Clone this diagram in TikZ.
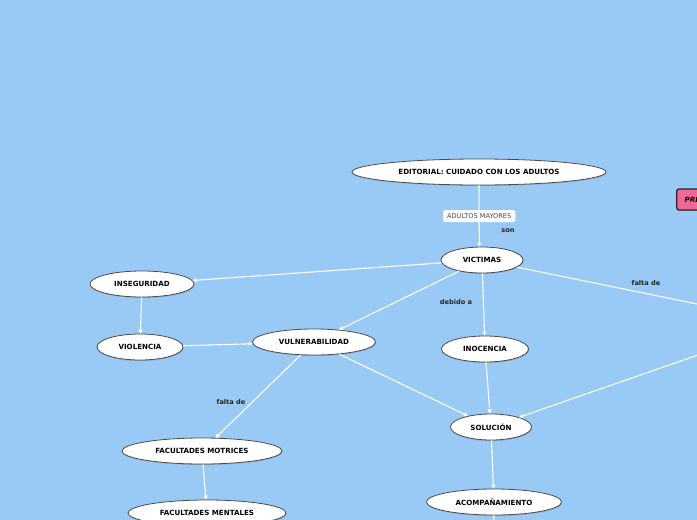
\documentclass[tikz,border=0pt]{standalone}
\usepackage{fontspec}
\setmainfont{DejaVu Sans}
\usetikzlibrary{shapes.geometric,shadows,arrows.meta}
\definecolor{fondo}{RGB}{153,201,245}
\definecolor{rosa}{RGB}{240,104,152}
\begin{document}
\begin{tikzpicture}[x=1pt,y=-1pt,
    tema/.style={ellipse, draw=black!70, fill=white, line width=0.8pt, inner sep=0pt,
      minimum height=26pt, font=\bfseries\fontsize{7.1}{8}\selectfont,
      drop shadow={shadow xshift=0.6pt, shadow yshift=-0.9pt, opacity=0.45}},
    enlace/.style={draw=white, line width=1.1pt, -{Triangle[length=4pt,width=4.2pt]}},
    rotulo/.style={font=\bfseries\fontsize{6.6}{7}\selectfont, text=black!85},
    etiqueta/.style={fill=white, rounded corners=2pt, inner xsep=4pt, inner ysep=3.5pt,
      font=\fontsize{6.6}{7}\selectfont, text=black!70}]
  \useasboundingbox (0,0) rectangle (697,520);
  \fill[fondo] (0,0) rectangle (697,520);
  \clip (0,0) rectangle (697,520);

  \node[tema, minimum width=254pt] (editorial) at (479,172) {EDITORIAL: CUIDADO CON LOS ADULTOS};
  \node[tema, minimum width=82pt] (victimas) at (482,260) {VICTIMAS};
  \node[tema, minimum width=104pt] (inseguridad) at (142,284) {INSEGURIDAD};
  \node[tema, minimum width=86pt] (violencia) at (140,347) {VIOLENCIA};
  \node[tema, minimum width=123pt] (vulnerabilidad) at (314,342) {VULNERABILIDAD};
  \node[tema, minimum width=87pt] (inocencia) at (485,349) {INOCENCIA};
  \node[tema, minimum width=81pt] (solucion) at (491,427) {SOLUCIÓN};
  \node[tema, minimum width=160pt] (motrices) at (202,451) {FACULTADES MOTRICES};
  \node[tema, minimum width=158pt] (mentales) at (207,513) {FACULTADES MENTALES};
  \node[tema, minimum width=135pt] (acompanamiento) at (494,502) {ACOMPAÑAMIENTO};
  \node[anchor=west, fill=rosa, draw=black!85, line width=1.3pt, rounded corners=2.5pt,
    minimum height=21pt, inner xsep=8pt, font=\bfseries\itshape\fontsize{7.1}{8}\selectfont,
    drop shadow={shadow xshift=0.6pt, shadow yshift=-0.9pt, opacity=0.45}]
    (prioridad) at (676,199.5) {PRIORIDAD};
  \coordinate (derecha) at (790,323);
  \coordinate (abajo) at (493,560);

  \node[rotulo] (son) at (508,231) {son};
  \node[rotulo] (debido) at (456,302) {debido a};
  \node[rotulo] (faltaA) at (646,283) {falta de};
  \node[rotulo] (faltaB) at (231,402) {falta de};

  \draw[enlace] (editorial.south) -- node[etiqueta] (adultos) {ADULTOS MAYORES} (victimas.101);
  \draw[enlace] (victimas) -- (inseguridad);
  \draw[enlace] (victimas) -- (vulnerabilidad);
  \draw[enlace] (victimas) -- (inocencia);
  \draw[enlace] (victimas) -- (derecha);
  \draw[enlace] (inseguridad) -- (violencia);
  \draw[enlace] (violencia) -- (vulnerabilidad);
  \draw[enlace] (vulnerabilidad) -- (motrices);
  \draw[enlace] (vulnerabilidad) -- (solucion);
  \draw[enlace] (inocencia) -- (solucion);
  \draw[enlace] (derecha) -- (solucion);
  \draw[enlace] (solucion) -- (acompanamiento);
  \draw[enlace] (motrices) -- (mentales);
  \draw[enlace] (acompanamiento) -- (abajo);
\end{tikzpicture}
\end{document}
